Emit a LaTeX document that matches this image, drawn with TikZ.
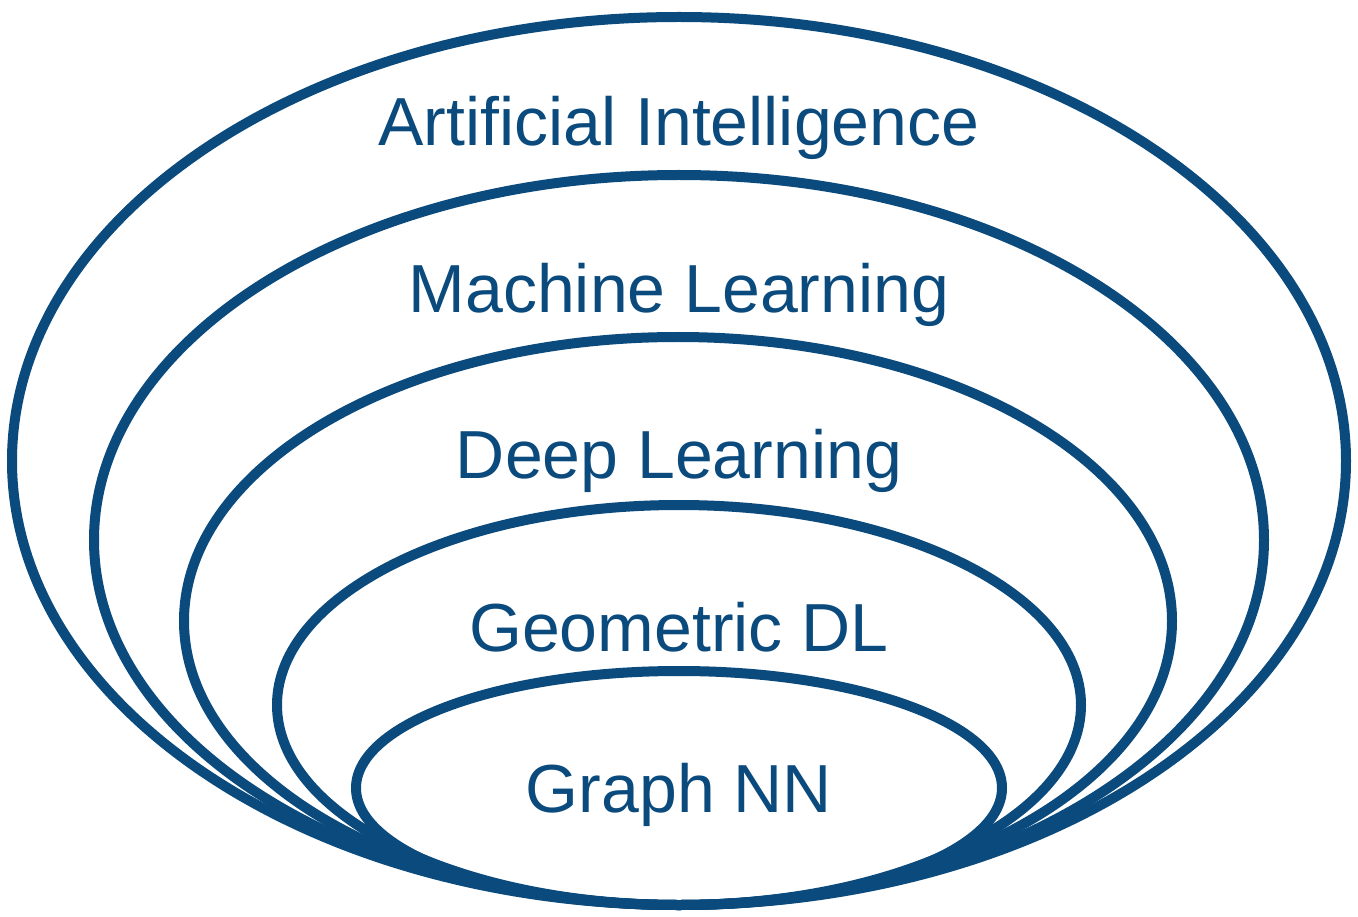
\documentclass[tikz,border=0pt]{standalone}
\usepackage{fontspec}
\setmainfont{Liberation Sans}
\definecolor{navy}{HTML}{0B4A7C}
\begin{document}
\begin{tikzpicture}[x=1pt,y=-1pt,
  ring/.style={draw=navy,line width=10pt},
  lbl/.style={text=navy,font=\fontsize{68}{80}\selectfont,anchor=center}]
\useasboundingbox (0,0) rectangle (1358,917);
\draw[ring] (679,461) ellipse [x radius=667, y radius=444];
\draw[ring] (679,540) ellipse [x radius=585, y radius=365];
\draw[ring] (678,621) ellipse [x radius=494, y radius=284];
\draw[ring] (679,705) ellipse [x radius=402, y radius=200];
\draw[ring] (679,788) ellipse [x radius=323, y radius=117];
\node[lbl] (ai) at (679,128) {Artificial Intelligence};
\node[lbl] (ml) at (679,295) {Machine Learning};
\node[lbl] (dl) at (679,461) {Deep Learning};
\node[lbl] (gd) at (679,627) {Geometric DL};
\node[lbl] (gn) at (679,795) {Graph NN};
\end{tikzpicture}
\end{document}
